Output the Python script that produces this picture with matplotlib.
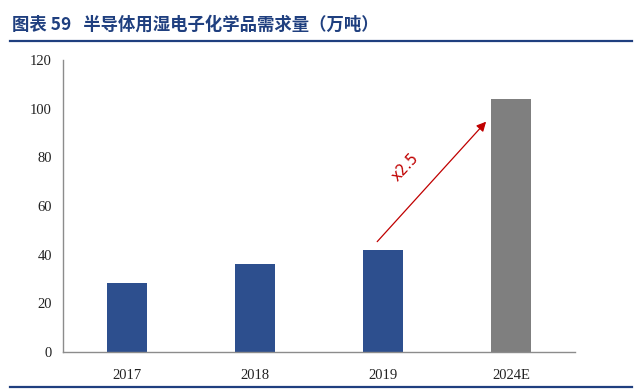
import matplotlib.pyplot as plt
from matplotlib.lines import Line2D

# chart data
years = ["2017", "2018", "2019", "2024E"]
demand = [28.4, 36.2, 41.9, 104]
bar_colors = ["#2d4f8e", "#2d4f8e", "#2d4f8e", "#7f7f7f"]
y_ticks = [0, 20, 40, 60, 80, 100, 120]

plt.rcParams['font.family'] = ['Liberation Serif', 'Noto Sans CJK SC']

fig = plt.figure(figsize=(6.4, 3.91), dpi=100)
ax = fig.add_axes([63 / 640, 1 - 352 / 391, 512 / 640, 292 / 391])

x = range(len(years))
ax.bar(x, demand, width=0.31, color=bar_colors)
ax.set_xlim(-0.5, len(years) - 0.5)
ax.set_ylim(0, 120)
ax.set_yticks(y_ticks)
ax.set_xticks(list(x))
ax.set_xticklabels(years)
ax.tick_params(length=0, labelsize=10.5, colors="#222222")
ax.tick_params(axis="y", pad=8)
ax.tick_params(axis="x", pad=12)
for s in ["top", "right"]:
    ax.spines[s].set_visible(False)
for s in ["left", "bottom"]:
    ax.spines[s].set_color("#8c8c8c")
    ax.spines[s].set_linewidth(1.0)

# growth arrow
ax.annotate("", xy=(2.82, 95.5), xytext=(1.94, 44.5),
            arrowprops=dict(arrowstyle="-|>", color="#c00000", lw=0.9,
                            mutation_scale=14))
ax.text(2.17, 76, "x2.5", color="#c00000", rotation=47, fontsize=10.5,
        family="DejaVu Sans", ha="center", va="center")

# title and rules
fig.text(12 / 640, 1 - 25 / 391, "图表 59   半导体用湿电子化学品需求量（万吨）",
         family=["Noto Sans CJK SC"], fontweight="bold", fontsize=12.5,
         color="#1f3f7f", va="center", ha="left")
fig.add_artist(Line2D([10 / 640, 632 / 640], [1 - 41 / 391, 1 - 41 / 391],
                      color="#1f3f7f", lw=1.6))
fig.add_artist(Line2D([10 / 640, 632 / 640], [1 - 387 / 391, 1 - 387 / 391],
                      color="#1f3f7f", lw=1.6))

fig.savefig("out.png", dpi=100)
